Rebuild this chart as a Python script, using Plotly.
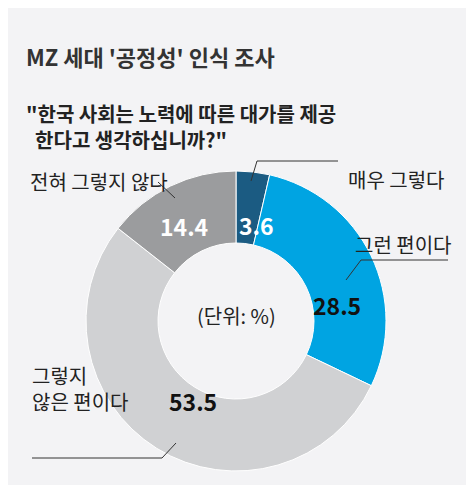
import plotly.graph_objects as go

labels = ["매우 그렇다", "그런 편이다", "그렇지<br>않은 편이다", "전혀 그렇지 않다"]
values = [3.6, 28.5, 53.5, 14.4]
colors = ["#1b5b82", "#00a4e2", "#d0d1d3", "#9b9c9e"]
valcolors = ["white", "#111", "#111", "white"]

W, H = 474, 485
F = "Noto Sans CJK KR"
fig = go.Figure(go.Pie(values=values, labels=labels, sort=False, direction="clockwise",
                       rotation=0, hole=0.52, textinfo="none", hoverinfo="skip",
                       marker=dict(colors=colors, line=dict(color="white", width=1)),
                       domain=dict(x=[77/W, 379/W], y=[22/H, 322/H]), showlegend=False))

def px(x, y):
    return x / W, 1 - y / H

ann = []
vpos = [(248, 217), (355, 297), (185, 412), (176, 218)]
for v, c, (x, y) in zip(values, valcolors, vpos):
    ax, ay = px(x, y)
    ann.append(dict(x=ax, y=ay, text=f"<b>{v}</b>", showarrow=False, xref="paper", yref="paper",
                    font=dict(family=F, size=23, color=c)))
lpos = [(338, 155), (345, 236), (22, 410), (20, 157)]
for t, (x, y) in zip(labels, lpos):
    ax, ay = px(x, y)
    ann.append(dict(x=ax, y=ay, text=t, showarrow=False, xref="paper", yref="paper",
                    xanchor="left", align="left", font=dict(family=F, size=20, color="#222")))
ax, ay = px(228, 324)
ann.append(dict(x=ax, y=ay, text="(단위: %)", showarrow=False, xref="paper", yref="paper",
                font=dict(family=F, size=20, color="#222")))
ann.append(dict(x=16/W, y=1-30/H, text="<b>MZ 세대 '공정성' 인식 조사</b>", showarrow=False,
                xref="paper", yref="paper", xanchor="left", font=dict(family=F, size=22, color="#333")))
ann.append(dict(x=16/W, y=1-89/H, text="<b>\"한국 사회는 노력에 따른 대가를 제공<br>  한다고 생각하십니까?\"</b>",
                showarrow=False, xref="paper", yref="paper", xanchor="left", align="left",
                font=dict(family=F, size=20, color="#222")))

lines = [[(243, 173), (249, 153), (330, 153)],
         [(167, 190), (150, 174)],
         [(338, 272), (353, 252), (440, 252)],
         [(168, 435), (154, 450), (24, 450)]]
shapes = []
for ln in lines:
    for (x0, y0), (x1, y1) in zip(ln[:-1], ln[1:]):
        a0, b0 = px(x0, y0); a1, b1 = px(x1, y1)
        shapes.append(dict(type="line", xref="paper", yref="paper", x0=a0, y0=b0, x1=a1, y1=b1,
                           line=dict(color="#333", width=1)))

fig.update_layout(width=W, height=H, margin=dict(l=0, r=0, t=0, b=0),
                  paper_bgcolor="#f3f3f5", annotations=ann, shapes=shapes)
fig.write_html("out.html")
